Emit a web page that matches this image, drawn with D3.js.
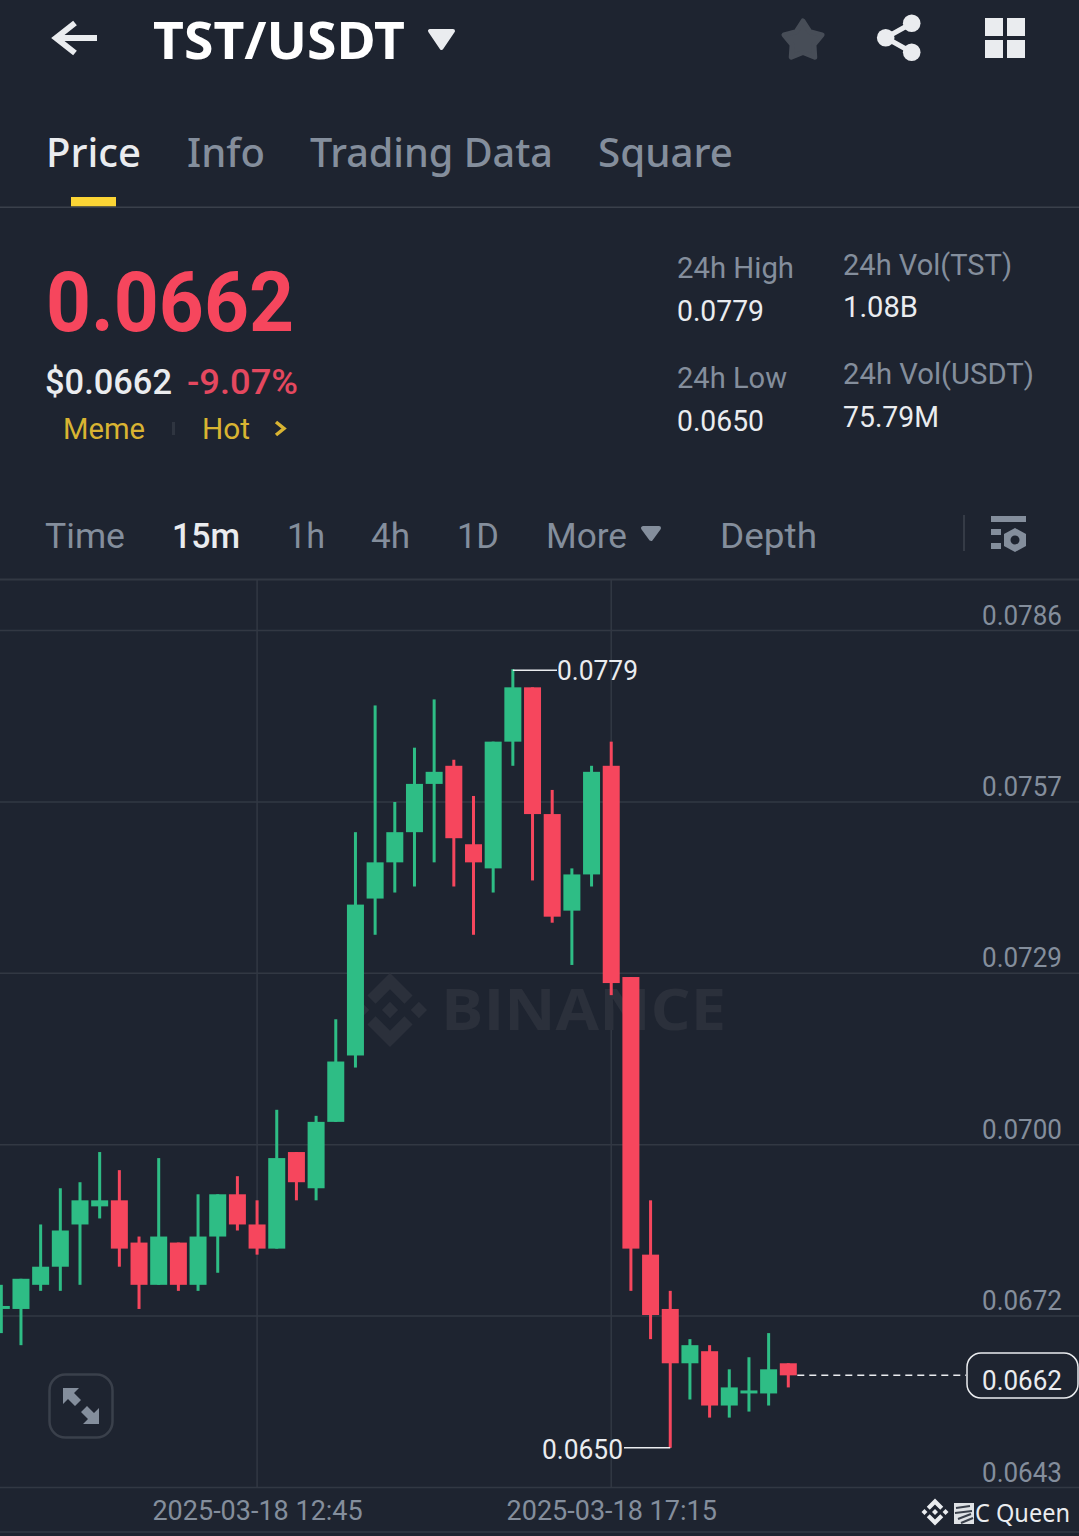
<!DOCTYPE html>
<html>
<head>
<meta charset="utf-8">
<title>TST/USDT</title>
<script src="https://cdn.jsdelivr.net/npm/d3@7"></script>
<style>
  html, body { margin: 0; padding: 0; background: #1e2430; }
  svg { display: block; }
</style>
</head>
<body>
<svg id="chart" width="1079" height="1536"></svg>
<script>
// 15m candles
const candleTimes = ["09:30","09:45","10:00","10:15","10:30","10:45","11:00","11:15","11:30","11:45",
  "12:00","12:15","12:30","12:45","13:00","13:15","13:30","13:45","14:00","14:15",
  "14:30","14:45","15:00","15:15","15:30","15:45","16:00","16:15","16:30","16:45",
  "17:00","17:15","17:30","17:45","18:00","18:15","18:30","18:45","19:00","19:15","19:30"];
const opens = [0.0673,0.0673,0.0677,0.0680,0.0687,0.0690,0.0691,0.0684,0.0677,0.0684,
  0.0677,0.0685,0.0692,0.0687,0.0683,0.0699,0.0693,0.0704,0.0715,0.0741,
  0.0747,0.0752,0.0760,0.0763,0.0750,0.0746,0.0767,0.0776,0.0755,0.0739,
  0.0745,0.0763,0.0728,0.0682,0.0673,0.0664,0.0666,0.0657,0.0659,0.0659,0.0664];
const closes = [0.0673,0.0678,0.0680,0.0686,0.0691,0.0691,0.0683,0.0677,0.0685,0.0677,
  0.0685,0.0692,0.0687,0.0683,0.0698,0.0694,0.0704,0.0714,0.0740,0.0747,
  0.0752,0.0760,0.0762,0.0751,0.0747,0.0767,0.0776,0.0755,0.0738,0.0745,
  0.0762,0.0727,0.0683,0.0672,0.0664,0.0667,0.0657,0.0660,0.0659,0.0663,0.0662];
const highs = [0.0677,0.0678,0.0687,0.0693,0.0694,0.0699,0.0696,0.0685,0.0698,0.0684,
  0.0692,0.0692,0.0695,0.0691,0.0706,0.0699,0.0705,0.0721,0.0752,0.0773,
  0.0757,0.0766,0.0774,0.0764,0.0758,0.0767,0.0779,0.0776,0.0759,0.0746,
  0.0763,0.0767,0.0728,0.0691,0.0676,0.0668,0.0667,0.0663,0.0665,0.0669,0.0664];
const lows = [0.0669,0.0667,0.0676,0.0676,0.0677,0.0688,0.0680,0.0673,0.0677,0.0676,
  0.0676,0.0679,0.0686,0.0682,0.0683,0.0691,0.0691,0.0704,0.0713,0.0735,
  0.0742,0.0743,0.0747,0.0743,0.0735,0.0742,0.0763,0.0744,0.0737,0.0730,
  0.0743,0.0725,0.0676,0.0668,0.0650,0.0658,0.0655,0.0655,0.0656,0.0657,0.0660];

const priceTicks = [0.07855, 0.07571, 0.07287, 0.07003, 0.06719, 0.06435];
const priceTickLabels = ["0.0786", "0.0757", "0.0729", "0.0700", "0.0672", "0.0643"];
const timeTicks = ["12:45", "17:15"];
const lastPrice = 0.0662;
const highMark = 0.0779;
const lowMark = 0.0650;

const tabs = ["Price", "Info", "Trading Data", "Square"];
const intervals = ["Time", "15m", "1h", "4h", "1D", "More", "Depth"];

const BG = "#1e2430", GRID = "#323843", GREY = "#848e9c", WHITE = "#eaecef";
const GREEN = "#2ebd85", RED = "#f6465d", GOLD = "#d9b432";
const UI_FONT = "'Noto Sans', sans-serif", NUM_FONT = "Roboto, sans-serif";

const parseTime = d3.utcParse("%Y-%m-%d %H:%M");
const toDate = t => parseTime("2025-03-18 " + t);
const dates = candleTimes.map(toDate);

const svg = d3.select("#chart");
svg.append("rect").attr("width", 1079).attr("height", 1536).attr("fill", BG);

const x = d3.scaleTime().domain([dates[0], dates[dates.length - 1]]).range([1.3, 788.3]);
const y = d3.scaleLinear().domain([0.06435, 0.07855]).range([1487, 630]);

// text helper, w squeezes the run to the width seen in the picture
function label(parent, str, px, py, size, fill, opts = {}) {
  const t = parent.append("text")
    .attr("x", px).attr("y", py)
    .attr("font-size", size).attr("fill", fill)
    .attr("font-family", opts.font || NUM_FONT)
    .attr("font-weight", opts.weight || 400)
    .attr("text-anchor", opts.anchor || "start")
    .text(str);
  if (opts.w) t.attr("textLength", opts.w).attr("lengthAdjust", "spacingAndGlyphs");
  return t;
}

function binanceLogo(parent, cx, cy, r, fill) {
  const g = parent.append("g").attr("transform", `translate(${cx},${cy}) scale(${r})`).attr("fill", fill);
  g.append("path").attr("d", "M0,-1L0.61,-0.39L0.39,-0.17L0,-0.56L-0.39,-0.17L-0.61,-0.39Z");
  g.append("path").attr("d", "M0,1L0.61,0.39L0.39,0.17L0,0.56L-0.39,0.17L-0.61,0.39Z");
  g.append("path").attr("d", "M0,-0.22L0.22,0L0,0.22L-0.22,0Z");
  g.append("path").attr("d", "M-0.78,-0.22L-0.56,0L-0.78,0.22L-1,0Z");
  g.append("path").attr("d", "M0.78,-0.22L1,0L0.78,0.22L0.56,0Z");
}

// small downward triangle with soft corners
function caret(parent, x0, x1, y0, y1, fill) {
  parent.append("path")
    .attr("d", `M${x0 + 2},${y0 + 2}H${x1 - 2}L${(x0 + x1) / 2},${y1 - 2}Z`)
    .attr("fill", fill).attr("stroke", fill).attr("stroke-width", 4).attr("stroke-linejoin", "round");
}

// ---- header
const header = svg.append("g");
header.append("path").attr("d", "M97,38H57M75,23L56,38L75,53")
  .attr("fill", "none").attr("stroke", WHITE).attr("stroke-width", 6);
label(header, "TST/USDT", 153, 59, 52, "#ffffff", {font: UI_FONT, weight: 700, w: 252});
caret(header, 428, 455, 29, 50, WHITE);

const starPoints = d3.range(10).map(i => {
  const a = i * Math.PI / 5, r = i % 2 ? 11.5 : 20;
  return [r * Math.sin(a), -r * Math.cos(a)];
});
header.append("path")
  .attr("d", d3.line()(starPoints) + "Z")
  .attr("transform", "translate(803,41)")
  .attr("fill", "#474d57").attr("stroke", "#474d57").attr("stroke-width", 5).attr("stroke-linejoin", "round");
header.append("path").attr("d", "M911.7,23.3L885.7,37.7L911.7,52.3")
  .attr("fill", "none").attr("stroke", WHITE).attr("stroke-width", 5);
[[885.7, 37.7], [911.7, 23.3], [911.7, 52.3]].forEach(c =>
  header.append("circle").attr("cx", c[0]).attr("cy", c[1]).attr("r", 8.8).attr("fill", WHITE));
[[985, 18], [1007, 18], [985, 40], [1007, 40]].forEach(c =>
  header.append("rect").attr("x", c[0]).attr("y", c[1]).attr("width", 18).attr("height", 18).attr("fill", WHITE));

// tabs
const tabX = [46, 187, 310, 598], tabW = [95, 78, 243, 135];
tabs.forEach((name, i) => label(header, name, tabX[i], 167, 40, i === 0 ? WHITE : GREY,
  {font: UI_FONT, weight: 500, w: tabW[i]}));
header.append("rect").attr("x", 71).attr("y", 197).attr("width", 45).attr("height", 9.5).attr("fill", "#fcd535");
header.append("rect").attr("x", 0).attr("y", 206.5).attr("width", 1079).attr("height", 1.5).attr("fill", "#3a404b");

// ---- ticker block
const ticker = svg.append("g");
label(ticker, d3.format(".4f")(lastPrice), 46, 331, 84, RED, {weight: 700, w: 248});
label(ticker, "$0.0662", 45, 394, 35, WHITE, {weight: 500, w: 127});
label(ticker, "-9.07%", 187, 394, 35, "#e5485f", {weight: 500, w: 111});
label(ticker, "Meme", 63, 439, 30, GOLD, {w: 82});
ticker.append("rect").attr("x", 172).attr("y", 422).attr("width", 3).attr("height", 13).attr("fill", "#2f3540");
label(ticker, "Hot", 202, 439, 30, GOLD, {w: 48});
ticker.append("path").attr("d", "M276,422L284,428.5L276,435").attr("fill", "none").attr("stroke", GOLD).attr("stroke-width", 3.5);

label(ticker, "24h High", 677, 278, 30, GREY, {w: 117});
label(ticker, "0.0779", 677, 321, 30, WHITE, {w: 87});
label(ticker, "24h Low", 677, 388, 30, GREY, {w: 110});
label(ticker, "0.0650", 677, 431, 30, WHITE, {w: 87});
label(ticker, "24h Vol(TST)", 843, 275, 30, GREY, {w: 169});
label(ticker, "1.08B", 843, 317, 30, WHITE, {w: 75});
label(ticker, "24h Vol(USDT)", 843, 384, 30, GREY, {w: 191});
label(ticker, "75.79M", 843, 427, 30, WHITE, {w: 96});

// ---- interval bar
const bar = svg.append("g");
const intervalX = [45, 172, 287, 371, 457, 546, 720], intervalW = [80, 68, 38, 39, 42, 81, 97];
intervals.forEach((name, i) => label(bar, name, intervalX[i], 548, 35, i === 1 ? WHITE : GREY,
  {weight: i === 1 ? 500 : 400, w: intervalW[i]}));
caret(bar, 641, 661, 526, 541, GREY);
bar.append("rect").attr("x", 963).attr("y", 515).attr("width", 2).attr("height", 36).attr("fill", "#353b46");
// settings icon
bar.append("rect").attr("x", 991).attr("y", 516).attr("width", 35).attr("height", 6).attr("fill", GREY);
bar.append("rect").attr("x", 991).attr("y", 529).attr("width", 10).attr("height", 6).attr("fill", GREY);
bar.append("rect").attr("x", 991).attr("y", 543).attr("width", 10).attr("height", 6).attr("fill", GREY);
bar.append("path").attr("d", d3.line()([[1015, 528], [1026, 534], [1026, 546], [1015, 552], [1004, 546], [1004, 534]]) + "Z")
  .attr("fill", GREY);
bar.append("circle").attr("cx", 1015).attr("cy", 540).attr("r", 4.5).attr("fill", BG);

// ---- chart frame and grid
const grid = svg.append("g");
grid.append("line").attr("x1", 0).attr("x2", 1079).attr("y1", 579.5).attr("y2", 579.5).attr("stroke", GRID).attr("stroke-width", 2);
grid.append("line").attr("x1", 0).attr("x2", 1079).attr("y1", 1532).attr("y2", 1532).attr("stroke", GRID).attr("stroke-width", 1.5);

const yAxis = d3.axisRight(y)
  .tickValues(priceTicks)
  .tickSize(1079)
  .tickFormat((d, i) => priceTickLabels[i]);
const yAxisG = grid.append("g").call(yAxis);
yAxisG.select(".domain").remove();
yAxisG.selectAll(".tick line").attr("stroke", GRID).attr("stroke-width", 1.5);
yAxisG.selectAll(".tick text")
  .attr("x", 1062).attr("dy", -6).attr("y", 0)
  .attr("text-anchor", "end").attr("dominant-baseline", "auto")
  .attr("textLength", 80).attr("lengthAdjust", "spacingAndGlyphs")
  .attr("fill", GREY).attr("font-size", 28).attr("font-family", NUM_FONT);

const xAxis = d3.axisBottom(x)
  .tickValues(timeTicks.map(toDate))
  .tickSize(0)
  .tickFormat(d3.utcFormat("%Y-%m-%d %H:%M"));
const xAxisG = grid.append("g").attr("transform", "translate(0,1487)").call(xAxis);
xAxisG.select(".domain").remove();
xAxisG.selectAll(".tick text")
  .attr("y", 33).attr("dy", 0)
  .attr("fill", GREY).attr("font-size", 27).attr("font-family", NUM_FONT);
// vertical guides go from the bar down to the last price line
timeTicks.forEach(t => grid.append("line")
  .attr("x1", x(toDate(t))).attr("x2", x(toDate(t)))
  .attr("y1", 580).attr("y2", 1487)
  .attr("stroke", GRID).attr("stroke-width", 1.5));

// watermark
const mark = svg.append("g");
binanceLogo(mark, 390, 1010, 37, "#2b303b");
label(mark, "BINANCE", 441, 1030, 58, "#2b303b", {weight: 700, font: "'Open Sans', sans-serif", w: 285});

// ---- candles
const candleIdx = d3.range(dates.length);
const BODY_W = 17, WICK_W = 3, MIN_BODY = 3;
const bodyH = i => Math.abs(y(opens[i]) - y(closes[i]));
const candles = svg.append("g").selectAll("g").data(candleIdx).join("g")
  .attr("fill", i => closes[i] >= opens[i] ? GREEN : RED);
candles.append("rect")
  .attr("x", i => x(dates[i]) - WICK_W / 2)
  .attr("width", WICK_W)
  .attr("y", i => y(highs[i]))
  .attr("height", i => y(lows[i]) - y(highs[i]));
candles.append("rect")
  .attr("x", i => x(dates[i]) - BODY_W / 2)
  .attr("width", BODY_W)
  .attr("y", i => bodyH(i) < MIN_BODY ? y(closes[i]) - MIN_BODY : Math.min(y(opens[i]), y(closes[i])))
  .attr("height", i => Math.max(bodyH(i), MIN_BODY));

// high / low callouts
const hiIdx = highs.indexOf(highMark), loIdx = lows.indexOf(lowMark);
const notes = svg.append("g");
notes.append("path").attr("fill", "none").attr("stroke", WHITE).attr("stroke-width", 1.6)
  .attr("d", `M${x(dates[hiIdx])},${y(highMark) + 1}H557`);
label(notes, d3.format(".4f")(highMark), 557, y(highMark) + 11, 28, WHITE, {w: 81});
notes.append("path").attr("fill", "none").attr("stroke", WHITE).attr("stroke-width", 1.6)
  .attr("d", `M${x(dates[loIdx])},${y(lowMark)}H624`);
label(notes, d3.format(".4f")(lowMark), 542, y(lowMark) + 11, 28, WHITE, {w: 81});

// last price line and box
notes.append("line")
  .attr("x1", x(dates[dates.length - 1]) + 9).attr("x2", 966)
  .attr("y1", y(lastPrice)).attr("y2", y(lastPrice))
  .attr("stroke", WHITE).attr("stroke-width", 1.5).attr("stroke-dasharray", "7 5");
notes.append("rect").attr("x", 967).attr("y", 1353).attr("width", 111).attr("height", 45).attr("rx", 14)
  .attr("fill", BG).attr("stroke", WHITE).attr("stroke-width", 1.5);
label(notes, d3.format(".4f")(lastPrice), 1062, 1390, 28, WHITE, {anchor: "end", w: 80});

// expand button
const expand = svg.append("g");
expand.append("rect").attr("x", 49.5).attr("y", 1374.5).attr("width", 63).attr("height", 63).attr("rx", 16)
  .attr("fill", "none").attr("stroke", "#3a404b").attr("stroke-width", 2.5);
expand.append("path").attr("d", "M63,1388H79L74,1393L81,1400L75,1406L68,1399L63,1404Z").attr("fill", GREY);
expand.append("path").attr("d", "M99,1424H83L88,1419L81,1412L87,1406L94,1413L99,1408Z").attr("fill", GREY);

// footer watermark
const foot = svg.append("g");
binanceLogo(foot, 935, 1512, 13.5, WHITE);
foot.append("rect").attr("x", 954).attr("y", 1503).attr("width", 20).attr("height", 21).attr("fill", "#dfe2e6");
foot.append("path").attr("d", "M956,1508L970,1506M955,1513L972,1511M958,1519L971,1514M961,1523L973,1518")
  .attr("stroke", "#3a404b").attr("stroke-width", 2).attr("fill", "none");
label(foot, "C Queen", 975, 1522, 25, WHITE, {font: UI_FONT, w: 95});
</script>
</body>
</html>
